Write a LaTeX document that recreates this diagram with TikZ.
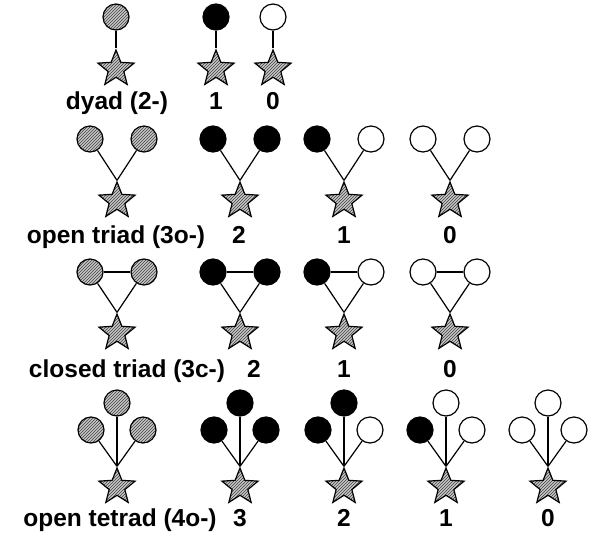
\documentclass[tikz,border=0pt]{standalone}
\usepackage{fontspec}
\setmainfont{Liberation Sans}
\usetikzlibrary{shapes.geometric,patterns}
\definecolor{hatchbg}{gray}{0.78}
\definecolor{hatchln}{gray}{0.25}
\tikzset{
  ball/.style={circle, draw=black, line width=1.2pt, minimum size=26pt, inner sep=0pt},
  hat/.style={ball, preaction={fill=hatchbg}, pattern=north east lines, pattern color=hatchln},
  blk/.style={ball, fill=black},
  wht/.style={ball, fill=white},
  ego/.style={star, star points=5, star point ratio=2.3, minimum size=38pt, inner sep=0pt,
    draw=black, line width=1.2pt, preaction={fill=hatchbg}, pattern=north east lines, pattern color=hatchln},
  tie/.style={draw=black, line width=1.2pt},
  lbl/.style={anchor=base, inner sep=0pt, font=\fontsize{24.5}{28}\selectfont\bfseries}
}
\begin{document}
\begin{tikzpicture}[x=1pt, y=-1pt]
\useasboundingbox (0,0) rectangle (592,550);
% Row 1: dyad
\foreach \x/\f/\n in {116/hat/a, 216/blk/b, 273/wht/c} {
  \node[\f] (d\n c) at (\x,17) {};
  \node[ego] (d\n s) at (\x,69) {};
  \draw[tie] (d\n c) -- (d\n s.north);
}
\node[lbl] (dla) at (117,109) {dyad (2-)};
\node[lbl] (dlb) at (216,109) {1};
\node[lbl] (dlc) at (273,109) {0};
% Row 2: open triad
\foreach \x/\fa/\fb/\n in {117/hat/hat/a, 240/blk/blk/b, 344/blk/wht/c, 450/wht/wht/d} {
  \node[\fa] (o\n l) at (\x-27,139) {};
  \node[\fb] (o\n r) at (\x+27,139) {};
  \node[ego] (o\n s) at (\x,201) {};
  \draw[tie] (o\n l) -- (o\n s.north);
  \draw[tie] (o\n r) -- (o\n s.north);
}
\node[lbl] (ola) at (116,243) {open triad (3o-)};
\node[lbl] (olb) at (239,243) {2};
\node[lbl] (olc) at (344,243) {1};
\node[lbl] (old) at (450,243) {0};
% Row 3: closed triad
\foreach \x/\fa/\fb/\n in {117/hat/hat/a, 240/blk/blk/b, 344/blk/wht/c, 450/wht/wht/d} {
  \node[\fa] (c\n l) at (\x-27,272) {};
  \node[\fb] (c\n r) at (\x+27,272) {};
  \node[ego] (c\n s) at (\x,333) {};
  \draw[tie] (c\n l) -- (c\n r);
  \draw[tie] (c\n l) -- (c\n s.north);
  \draw[tie] (c\n r) -- (c\n s.north);
}
\node[lbl] (cla) at (127,377) {closed triad (3c-)};
\node[lbl] (clb) at (254,377) {2};
\node[lbl] (clc) at (344,377) {1};
\node[lbl] (cld) at (450,377) {0};
% Row 4: open tetrad
\foreach \x/\fa/\fb/\fc/\n in {117/hat/hat/hat/a, 240/blk/blk/blk/b, 344/blk/blk/wht/c, 446/blk/wht/wht/d, 548/wht/wht/wht/e} {
  \node[\fa] (t\n l) at (\x-26,430) {};
  \node[\fb] (t\n m) at (\x,403) {};
  \node[\fc] (t\n r) at (\x+26,430) {};
  \node[ego] (t\n s) at (\x,487) {};
  \draw[tie] (t\n l) -- (t\n s.north);
  \draw[tie] (t\n m) -- (t\n s.north);
  \draw[tie] (t\n r) -- (t\n s.north);
}
\node[lbl] (tla) at (120,526) {open tetrad (4o-)};
\node[lbl] (tlb) at (240,526) {3};
\node[lbl] (tlc) at (344,526) {2};
\node[lbl] (tld) at (446,526) {1};
\node[lbl] (tle) at (548,526) {0};
\end{tikzpicture}
\end{document}
